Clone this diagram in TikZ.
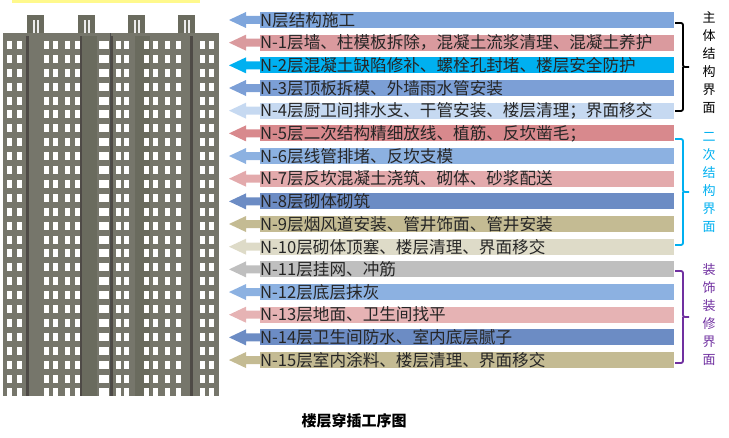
\documentclass[tikz,border=0pt]{standalone}
\usepackage{fontspec}
\setmainfont{Noto Sans CJK SC}
\usetikzlibrary{arrows.meta}
\definecolor{bld}{HTML}{76766B}
\definecolor{bldd}{HTML}{4E4A46}
\definecolor{bldc}{HTML}{6A6B5E}
\begin{document}
\begin{tikzpicture}[x=1pt,y=-1pt,
  lbl/.style={anchor=west,inner sep=0pt,font=\fontsize{16.6}{17}\selectfont,text=black!85},
  vlab/.style={align=center,font=\fontsize{13}{18}\selectfont,inner sep=0pt},
  brace/.style={line width=1.8pt,rounded corners=2pt}]
\useasboundingbox (0,0) rectangle (729,438);
% building
\fill[yellow!45] (12,0) rectangle (200,3);
\foreach \tx in {27,78,128,178}{
  \fill[bldc] (\tx,15) rectangle (\tx+17,34);
  \fill[white!85!gray] (\tx+6,20) rectangle (\tx+8,34);
  \fill[white!85!gray] (\tx+10,20) rectangle (\tx+12,34);
}
\fill[bld] (3,33) rectangle (219,396);
\foreach \sx in {26,80,110,135,190}{\fill[bldd] (\sx,36) rectangle (\sx+3,396);}
\foreach \sx in {82,135}{\fill[bldc] (\sx,36) rectangle (\sx+15,396);}
\fill[black!70] (110,33) rectangle (111,396);
\foreach \r in {0,...,25}{
  \foreach \wx in {7,17,44,53,65,75,99,104,116,124,144,153,165,176,200,209}{
    \fill[white] (\wx,41+\r*13.9) rectangle (\wx+5,49+\r*13.9);
  }
}
% arrows
\def\rowy#1{20+#1*22.67}
\foreach \i/\col/\txt in {
 0/{7FA6DC}/{N层结构施工},
 1/{DA9A9E}/{N-1层墙、柱模板拆除，混凝土流浆清理、混凝土养护},
 2/{00B0F0}/{N-2层混凝土缺陷修补、螺栓孔封堵、楼层安全防护},
 3/{7C9FD6}/{N-3层顶板拆模、外墙雨水管安装},
 4/{C6D9F1}/{N-4层厨卫间排水支、干管安装、楼层清理；界面移交},
 5/{D8898D}/{N-5层二次结构精细放线、植筋、反坎凿毛；},
 6/{8CB1E1}/{N-6层线管排堵、反坎支模},
 7/{E3AAAC}/{N-7层反坎混凝土浇筑、砌体、砂浆配送},
 8/{6C8CC4}/{N-8层砌体砌筑},
 9/{C4BB93}/{N-9层烟风道安装、管井饰面、管井安装},
 10/{DEDBC8}/{N-10层砌体顶塞、楼层清理、界面移交},
 11/{BFBFBF}/{N-11层挂网、冲筋},
 12/{8CB1E1}/{N-12层底层抹灰},
 13/{E6B3B4}/{N-13层地面、卫生间找平},
 14/{6C8CC4}/{N-14层卫生间防水、室内底层腻子},
 15/{C4BB93}/{N-15层室内涂料、楼层清理、界面移交}}{
  \definecolor{c\i}{HTML}{\col}
  \fill[c\i] (260,{\rowy{\i}-8}) rectangle (674,{\rowy{\i}+8});
  \fill[c\i] (262,{\rowy{\i}-4}) -- (246,{\rowy{\i}-4}) -- (246,{\rowy{\i}-8}) -- (229,{\rowy{\i}}) -- (246,{\rowy{\i}+8}) -- (246,{\rowy{\i}+4}) -- (262,{\rowy{\i}+4}) -- cycle;
  \node[lbl] (t\i) at (260,{\rowy{\i}}) {\txt};
}
% braces
\draw[brace] (675,23) -- (683,23) -- (683,67) -- (689,67) (683,67) -- (683,111) -- (675,111);
\node[vlab] (v1) at (709,63) {主\\体\\结\\构\\界\\面};
\draw[brace,color={rgb,255:red,0;green,176;blue,240}] (675,139) -- (683,139) -- (683,192) -- (689,192) (683,192) -- (683,245) -- (675,245);
\node[vlab,text={rgb,255:red,0;green,176;blue,240}] (v2) at (709,182) {二\\次\\结\\构\\界\\面};
\draw[brace,color={rgb,255:red,112;green,48;blue,160}] (675,271) -- (683,271) -- (683,317) -- (689,317) (683,317) -- (683,363) -- (675,363);
\node[vlab,text={rgb,255:red,112;green,48;blue,160}] (v3) at (709,315) {装\\饰\\装\\修\\界\\面};
\node[font=\bfseries\fontsize{15}{16}\selectfont] (cap) at (354,421) {楼层穿插工序图};
\end{tikzpicture}
\end{document}
